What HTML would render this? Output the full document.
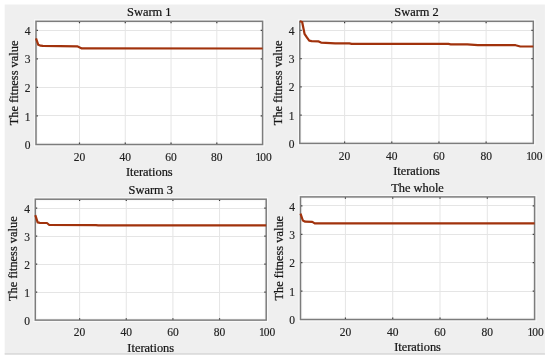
<!DOCTYPE html>
<html><head><meta charset="utf-8"><title>Fitness plots</title>
<style>
html,body{margin:0;padding:0;background:#fff;}
body{width:550px;height:359px;overflow:hidden;}
svg{display:block;filter:blur(0.3px);}
.t{font-family:"Liberation Serif","Times New Roman",serif;font-size:11.5px;fill:#202020;stroke:#202020;stroke-width:0.15px;}
.l{font-family:"Liberation Serif","Times New Roman",serif;font-size:12.4px;fill:#141414;stroke:#141414;stroke-width:0.22px;}
</style></head><body>
<svg width="550" height="359" viewBox="0 0 550 359">
<rect x="0" y="0" width="550" height="359" fill="#ffffff"/>
<rect x="4.7" y="4.5" width="540.2" height="350" fill="#efefef"/>
<rect x="4.7" y="353" width="540.2" height="1.8" fill="#dcdcdc"/>
<rect x="36" y="21.3" width="226.6" height="123.2" fill="#ffffff" stroke="#f9f9f9" stroke-width="4"/>
<path d="M79.49 21.3V144.5M125.27 21.3V144.5M171.04 21.3V144.5M216.82 21.3V144.5M36 115.5H262.6M36 87.5H262.6M36 58.5H262.6M36 30.5H262.6" stroke="#e5e5e5" stroke-width="1" fill="none"/>
<path d="M79.49 144.5v-1.9M79.49 21.3v1.9M125.27 144.5v-1.9M125.27 21.3v1.9M171.04 144.5v-1.9M171.04 21.3v1.9M216.82 144.5v-1.9M216.82 21.3v1.9M36 115.95h1.9M262.6 115.95h-1.9M36 87.4h1.9M262.6 87.4h-1.9M36 58.85h1.9M262.6 58.85h-1.9M36 30.3h1.9M262.6 30.3h-1.9" stroke="#3a3a3a" stroke-width="1.2" fill="none"/>
<rect x="36" y="21.3" width="226.6" height="123.2" fill="none" stroke="#7c7c7c" stroke-width="1.5"/>
<polyline points="36,38.4 38.29,44.8 40.58,45.7 42.87,45.9 77.2,46.3 81.78,48.4 262.6,48.5" fill="none" stroke="#a1320c" stroke-width="2.2" stroke-linejoin="round" stroke-linecap="butt"/>
<text x="79.49" y="160.7" class="t" text-anchor="middle">20</text>
<text x="125.27" y="160.7" class="t" text-anchor="middle">40</text>
<text x="171.04" y="160.7" class="t" text-anchor="middle">60</text>
<text x="216.82" y="160.7" class="t" text-anchor="middle">80</text>
<text y="160.7" class="t"><tspan x="255.48">1</tspan><tspan x="260.23">00</tspan></text>
<text x="30.6" y="149.1" class="t" text-anchor="end">0</text>
<text x="30.6" y="120.55" class="t" text-anchor="end">1</text>
<text x="30.6" y="92" class="t" text-anchor="end">2</text>
<text x="30.6" y="63.45" class="t" text-anchor="end">3</text>
<text x="30.6" y="34.9" class="t" text-anchor="end">4</text>
<text x="149.3" y="16.3" class="l" text-anchor="middle">Swarm 1</text>
<text x="149.3" y="176" class="l" text-anchor="middle">Iterations</text>
<text class="l" text-anchor="middle" transform="translate(18.1 82.9) rotate(-90)">The fitness value</text>
<rect x="299.8" y="21.3" width="233.5" height="122.1" fill="#ffffff" stroke="#f9f9f9" stroke-width="4"/>
<path d="M344.61 21.3V143.4M391.78 21.3V143.4M438.96 21.3V143.4M486.13 21.3V143.4M299.8 115.5H533.3M299.8 86.5H533.3M299.8 58.5H533.3M299.8 30.5H533.3" stroke="#e5e5e5" stroke-width="1" fill="none"/>
<path d="M344.61 143.4v-1.9M344.61 21.3v1.9M391.78 143.4v-1.9M391.78 21.3v1.9M438.96 143.4v-1.9M438.96 21.3v1.9M486.13 143.4v-1.9M486.13 21.3v1.9M299.8 115.12h1.9M533.3 115.12h-1.9M299.8 86.85h1.9M533.3 86.85h-1.9M299.8 58.58h1.9M533.3 58.58h-1.9M299.8 30.3h1.9M533.3 30.3h-1.9" stroke="#3a3a3a" stroke-width="1.2" fill="none"/>
<rect x="299.8" y="21.3" width="233.5" height="122.1" fill="none" stroke="#7c7c7c" stroke-width="1.5"/>
<polyline points="299.8,21.3 302.16,22 304.52,33.8 306.88,37.4 309.23,40.6 311.59,41.1 318.67,41.4 321.03,42.6 325.74,42.9 335.18,43.3 349.33,43.4 351.69,43.9 448.39,43.9 450.75,44.3 467.26,44.3 477.87,45.1 515.61,45.2 520.33,46.5 533.3,46.5" fill="none" stroke="#a1320c" stroke-width="2.2" stroke-linejoin="round" stroke-linecap="butt"/>
<text x="344.61" y="159.6" class="t" text-anchor="middle">20</text>
<text x="391.78" y="159.6" class="t" text-anchor="middle">40</text>
<text x="438.96" y="159.6" class="t" text-anchor="middle">60</text>
<text x="486.13" y="159.6" class="t" text-anchor="middle">80</text>
<text y="159.6" class="t"><tspan x="526.17">1</tspan><tspan x="530.92">00</tspan></text>
<text x="294.4" y="148" class="t" text-anchor="end">0</text>
<text x="294.4" y="119.72" class="t" text-anchor="end">1</text>
<text x="294.4" y="91.45" class="t" text-anchor="end">2</text>
<text x="294.4" y="63.18" class="t" text-anchor="end">3</text>
<text x="294.4" y="34.9" class="t" text-anchor="end">4</text>
<text x="416.55" y="16.3" class="l" text-anchor="middle">Swarm 2</text>
<text x="416.55" y="174.9" class="l" text-anchor="middle">Iterations</text>
<text class="l" text-anchor="middle" transform="translate(281.9 82.85) rotate(-90)">The fitness value</text>
<rect x="35.3" y="199.2" width="230.9" height="120.9" fill="#ffffff" stroke="#f9f9f9" stroke-width="4"/>
<path d="M79.61 199.2V320.1M126.26 199.2V320.1M172.91 199.2V320.1M219.55 199.2V320.1M35.3 292.5H266.2M35.3 264.5H266.2M35.3 236.5H266.2M35.3 208.5H266.2" stroke="#e5e5e5" stroke-width="1" fill="none"/>
<path d="M79.61 320.1v-1.9M79.61 199.2v1.9M126.26 320.1v-1.9M126.26 199.2v1.9M172.91 320.1v-1.9M172.91 199.2v1.9M219.55 320.1v-1.9M219.55 199.2v1.9M35.3 292.12h1.9M266.2 292.12h-1.9M35.3 264.15h1.9M266.2 264.15h-1.9M35.3 236.18h1.9M266.2 236.18h-1.9M35.3 208.2h1.9M266.2 208.2h-1.9" stroke="#3a3a3a" stroke-width="1.2" fill="none"/>
<rect x="35.3" y="199.2" width="230.9" height="120.9" fill="none" stroke="#7c7c7c" stroke-width="1.5"/>
<polyline points="35.3,215.1 37.63,222.4 39.96,222.8 46.96,223 49.29,225 95.94,225.1 98.27,225.4 266.2,225.3" fill="none" stroke="#a1320c" stroke-width="2.2" stroke-linejoin="round" stroke-linecap="butt"/>
<text x="79.61" y="336.3" class="t" text-anchor="middle">20</text>
<text x="126.26" y="336.3" class="t" text-anchor="middle">40</text>
<text x="172.91" y="336.3" class="t" text-anchor="middle">60</text>
<text x="219.55" y="336.3" class="t" text-anchor="middle">80</text>
<text y="336.3" class="t"><tspan x="259.07">1</tspan><tspan x="263.82">00</tspan></text>
<text x="29.9" y="324.7" class="t" text-anchor="end">0</text>
<text x="29.9" y="296.73" class="t" text-anchor="end">1</text>
<text x="29.9" y="268.75" class="t" text-anchor="end">2</text>
<text x="29.9" y="240.78" class="t" text-anchor="end">3</text>
<text x="29.9" y="212.8" class="t" text-anchor="end">4</text>
<text x="150.75" y="194.2" class="l" text-anchor="middle">Swarm 3</text>
<text x="150.75" y="351.6" class="l" text-anchor="middle">Iterations</text>
<text class="l" text-anchor="middle" transform="translate(17.4 258.65) rotate(-90)">The fitness value</text>
<rect x="300.5" y="196.9" width="234.1" height="122.6" fill="#ffffff" stroke="#f9f9f9" stroke-width="4"/>
<path d="M345.43 196.9V319.5M392.72 196.9V319.5M440.01 196.9V319.5M487.31 196.9V319.5M300.5 291.5H534.6M300.5 262.5H534.6M300.5 234.5H534.6M300.5 205.5H534.6" stroke="#e5e5e5" stroke-width="1" fill="none"/>
<path d="M345.43 319.5v-1.9M345.43 196.9v1.9M392.72 319.5v-1.9M392.72 196.9v1.9M440.01 319.5v-1.9M440.01 196.9v1.9M487.31 319.5v-1.9M487.31 196.9v1.9M300.5 291.1h1.9M534.6 291.1h-1.9M300.5 262.7h1.9M534.6 262.7h-1.9M300.5 234.3h1.9M534.6 234.3h-1.9M300.5 205.9h1.9M534.6 205.9h-1.9" stroke="#3a3a3a" stroke-width="1.2" fill="none"/>
<rect x="300.5" y="196.9" width="234.1" height="122.6" fill="none" stroke="#7c7c7c" stroke-width="1.5"/>
<polyline points="300.5,213.7 302.86,220.5 305.23,221.7 312.32,221.9 314.69,223.4 534.6,223.3" fill="none" stroke="#a1320c" stroke-width="2.2" stroke-linejoin="round" stroke-linecap="butt"/>
<text x="345.43" y="335.7" class="t" text-anchor="middle">20</text>
<text x="392.72" y="335.7" class="t" text-anchor="middle">40</text>
<text x="440.01" y="335.7" class="t" text-anchor="middle">60</text>
<text x="487.31" y="335.7" class="t" text-anchor="middle">80</text>
<text y="335.7" class="t"><tspan x="527.48">1</tspan><tspan x="532.23">00</tspan></text>
<text x="295.1" y="324.1" class="t" text-anchor="end">0</text>
<text x="295.1" y="295.7" class="t" text-anchor="end">1</text>
<text x="295.1" y="267.3" class="t" text-anchor="end">2</text>
<text x="295.1" y="238.9" class="t" text-anchor="end">3</text>
<text x="295.1" y="210.5" class="t" text-anchor="end">4</text>
<text x="417.55" y="191.9" class="l" text-anchor="middle">The whole</text>
<text x="417.55" y="351" class="l" text-anchor="middle">Iterations</text>
<text class="l" text-anchor="middle" transform="translate(282.6 258.2) rotate(-90)">The fitness value</text>
</svg>
</body></html>
